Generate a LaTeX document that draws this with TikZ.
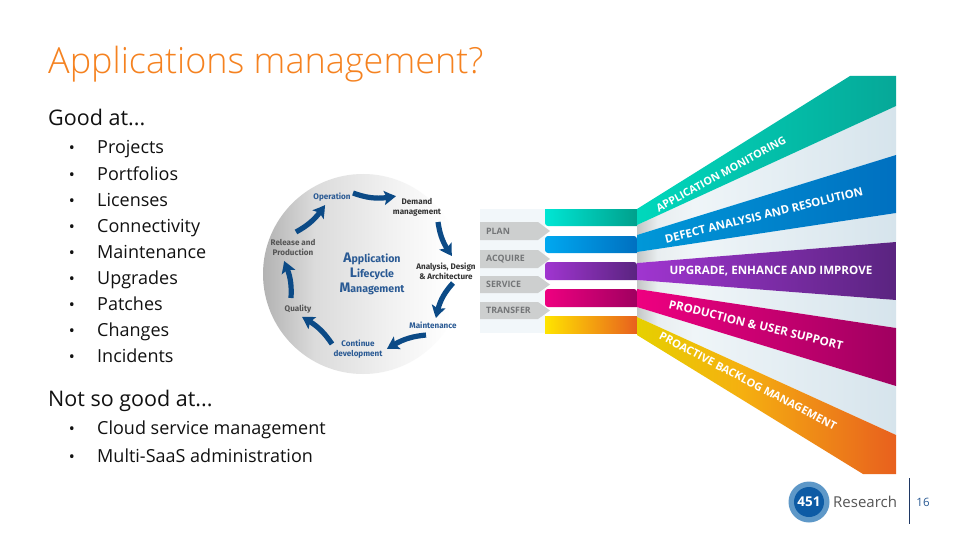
\documentclass[tikz,border=0pt]{standalone}
\usepackage{fontspec}
\setmainfont{Open Sans}
\newfontfamily\lightf{Open Sans Light}
\newfontfamily\fira{Fira Sans}
\usetikzlibrary{arrows.meta,bending}
\definecolor{orangeT}{HTML}{F58220}
\definecolor{ink}{HTML}{111111}
\definecolor{cycblue}{HTML}{0B4A86}
\definecolor{lblblue}{HTML}{2A5A94}
\definecolor{lbldark}{HTML}{333333}
\definecolor{lblgray}{HTML}{555555}
\definecolor{navy}{HTML}{1F3864}
\definecolor{gapA}{HTML}{C4C6C6}
\definecolor{gapB}{HTML}{E9EEF0}
\definecolor{gapC}{HTML}{EFF5F8}
\definecolor{gapD}{HTML}{D6E4EC}
\definecolor{panel}{HTML}{F2F7FA}
\definecolor{chevc}{HTML}{CDCFCF}
\definecolor{phasec}{HTML}{737577}
\definecolor{tealL}{HTML}{00E6D4}\definecolor{tealR}{HTML}{00A08C}
\definecolor{tealBL}{HTML}{00D8BC}\definecolor{tealBR}{HTML}{06A898}
\definecolor{blueL}{HTML}{00A8F0}\definecolor{blueR}{HTML}{0070C0}
\definecolor{purL}{HTML}{A035D0}\definecolor{purR}{HTML}{5A2480}
\definecolor{magL}{HTML}{EE0080}\definecolor{magR}{HTML}{A00060}
\definecolor{yelL}{HTML}{FFE400}\definecolor{yelR}{HTML}{E8601E}
\definecolor{yelBL}{HTML}{E6D000}\definecolor{yelBM}{HTML}{F5B010}
\definecolor{logoA}{HTML}{5E98C8}\definecolor{logoB}{HTML}{0D5BA5}
\pgfdeclarehorizontalshading{gapshade}{100bp}{color(0bp)=(gapA); color(25bp)=(gapA); color(29bp)=(gapB); color(36bp)=(gapC); color(75bp)=(gapD); color(100bp)=(gapD)}
\pgfdeclarehorizontalshading{discshade}{100bp}{color(0bp)=(black!30); color(25bp)=(black!30); color(38bp)=(black!14); color(58bp)=(black!5); color(72bp)=(white); color(100bp)=(white)}
\pgfdeclarehorizontalshading{yelband}{100bp}{color(0bp)=(yelBL); color(25bp)=(yelBL); color(45bp)=(yelBM); color(75bp)=(yelR); color(100bp)=(yelR)}
\tikzset{
  x=1pt,y=-1pt,
  headline/.style={anchor=base west,inner sep=0pt,text=ink,font=\fontsize{21.5}{22}\selectfont},
  item/.style={anchor=base west,inner sep=0pt,text=ink,font=\fontsize{18}{18}\selectfont},
  dot/.style={anchor=base,inner sep=0pt,text=ink,font=\fontsize{16}{16}\selectfont},
  cyc/.style={line width=5.2pt,draw=cycblue,-{Stealth[length=12pt,width=14pt,inset=2.5pt,bend]}},
  lab/.style={inner sep=0pt,align=center,font=\fontsize{8.1}{10}\selectfont\fira\bfseries},
  phase/.style={inner sep=0pt,text=phasec,font=\fontsize{8.8}{9}\selectfont\bfseries},
  chev/.style={fill=chevc,draw=none},
  band/.style={inner sep=0pt,text=white,font=\fontsize{#1}{#1}\selectfont\bfseries},
}
\begin{document}
\begin{tikzpicture}
\useasboundingbox (0,0) rectangle (960,540);
\fill[white] (0,0) rectangle (960,540);

% title and lists
\node[anchor=base west,inner sep=0pt,text=orangeT,font=\fontsize{36}{36}\selectfont\lightf] (title) at (48,74) {Applications management?};
\node[headline] (good) at (48,126) {Good at...};
\foreach \n/\t/\y in {a/Projects/154,b/Portfolios/180,c/Licenses/206,d/Connectivity/232,e/Maintenance/258,f/Upgrades/284,g/Patches/310,h/Changes/336,i/Incidents/362,j/Cloud service management/434,k/Multi-SaaS administration/462}{
  \node[dot] (dot\n) at (72,\y) {•};
  \node[item] (item\n) at (97,\y) {\t};
}
\node[headline] (notgood) at (48,406) {Not so good at...};

% disc
\shade[shading=discshade] (363,274) circle [radius=100];
\node[lab,text=lblblue] (op) at (332,197) {Operation};
\node[lab,text=lbldark] (dem) at (417,207) {Demand\\management};
\node[lab,text=lbldark] (ana) at (446,271) {Analysis, Design\\\& Architecture};
\node[lab,text=lblblue] (mai) at (433,325) {Maintenance};
\node[lab,text=lblblue] (con) at (358,349) {Continue\\development};
\node[lab,text=lblgray] (qua) at (298,309) {Quality};
\node[lab,text=lblgray] (rel) at (293,247) {Release and\\Production};
\node[inner sep=0pt,text=lblblue,align=center,font=\fontsize{10.6}{15}\selectfont\fira\bfseries] (alm) at (372,274)
  {{\fontsize{13.8}{15}\selectfont A}pplication\\{\fontsize{13.8}{15}\selectfont L}ifecycle\\{\fontsize{13.8}{15}\selectfont M}anagement};

\coordinate (a1s) at (353,193); \coordinate (a1e) at (396,196);
\coordinate (a2s) at (438,222); \coordinate (a2e) at (452,256);
\coordinate (a3s) at (453,283); \coordinate (a3e) at (436,318);
\coordinate (a4s) at (426,335); \coordinate (a4e) at (387,349);
\coordinate (a5s) at (332,344); \coordinate (a5e) at (302,317);
\coordinate (a6s) at (291,298); \coordinate (a6e) at (284,261);
\coordinate (a7s) at (296,232); \coordinate (a7e) at (325,205);
\draw[cyc] (a1s) to[bend right=16] (a1e);
\draw[cyc] (a2s) to[bend right=14] (a2e);
\draw[cyc] (a3s) to[bend right=16] (a3e);
\draw[cyc] (a4s) to[bend right=14] (a4e);
\draw[cyc] (a5s) to[bend right=14] (a5e);
\draw[cyc] (a6s) to[bend right=14] (a6e);
\draw[cyc] (a7s) to[bend right=14] (a7e);

% left panel
\fill[panel] (480,209) rectangle (545,333);
\foreach \n/\t/\y/\yb in {pl/PLAN/222/240,ac/ACQUIRE/250/268,se/SERVICE/276/293,tr/TRANSFER/302/319}{
  \fill[chev] (480,\y) -- (538,\y) -- (550,{(\y+\yb)/2}) -- (538,\yb) -- (480,\yb) -- cycle;
  \node[phase,anchor=west] (\n) at (486,{(\y+\yb)/2}) {\t};
}

% horizontal bars
\shade[left color=tealL,right color=tealR] (545,209) -- (637,209) -- (637,226) [rounded corners=3pt]-- (545,226) [sharp corners]-- cycle;
\shade[left color=blueL,right color=blueR] [rounded corners=3pt] (545,236) -- (637,236) [sharp corners]-- (637,253) [rounded corners=3pt]-- (545,253) -- cycle;
\shade[left color=purL,right color=purR] [rounded corners=3pt] (545,262) -- (637,262) [sharp corners]-- (637,280) [rounded corners=3pt]-- (545,280) -- cycle;
\shade[left color=magL,right color=magR] [rounded corners=3pt] (545,289) -- (637,289) [sharp corners]-- (637,307) [rounded corners=3pt]-- (545,307) -- cycle;
\shade[left color=yelL,right color=yelR] (545,316) rectangle (637,333);

% gaps between fan bands
\shade[shading=gapshade] (637,225) -- (896,106) -- (896,155) -- (637,235) -- cycle;
\shade[shading=gapshade] (637,252) -- (896,213) -- (896,242) -- (637,263) -- cycle;
\shade[shading=gapshade] (637,280) -- (896,300) -- (896,328) -- (637,289) -- cycle;
\shade[shading=gapshade] (637,307) -- (896,386) -- (896,435) -- (637,317) -- cycle;

% fan bands
\shade[left color=tealBL,right color=tealBR] (637,209) -- (850,76) -- (896,76) -- (896,106) -- (637,225) -- cycle;
\shade[left color=blueL!90!black,right color=blueR] (637,235) -- (896,155) -- (896,213) -- (637,252) -- cycle;
\shade[left color=purL,right color=purR] (637,263) -- (896,242) -- (896,300) -- (637,280) -- cycle;
\shade[left color=magL,right color=magR] (637,289) -- (896,328) -- (896,386) -- (637,307) -- cycle;
\shade[shading=yelband] (637,317) -- (896,435) -- (896,474) -- (863,474) -- (637,335) -- cycle;

\node[band=10.7,rotate=28.6] (b1) at (721,174) {APPLICATION MONITORING};
\node[band=11.4,rotate=13.7] (b2) at (764,215) {DEFECT ANALYSIS AND RESOLUTION};
\node[band=11.6] (b3) at (771,271) {UPGRADE, ENHANCE AND IMPROVE};
\node[band=11.6,rotate=-13.5] (b4) at (756,325) {PRODUCTION \& USER SUPPORT};
\node[band=11,rotate=-27.5] (b5) at (748,381) {PROACTIVE BACKLOG MANAGEMENT};

% logo and page number
\fill[logoA] (809,502) circle [radius=20.5];
\fill[logoB] (809,502) circle [radius=15];
\node[inner sep=0pt,text=white,font=\fontsize{13.5}{13.5}\selectfont\bfseries] (n451) at (809,502) {451};
\node[inner sep=0pt,anchor=west,text=lblgray,font=\fontsize{15}{15}\selectfont] (res) at (833,502) {Research};
\coordinate (vt) at (909,478); \coordinate (vb) at (909,524);
\draw[navy,line width=1pt] (vt) -- (vb);
\node[inner sep=0pt,text=lblblue,font=\fontsize{11.5}{11.5}\selectfont] (pg) at (923,502) {16};
\end{tikzpicture}
\end{document}
